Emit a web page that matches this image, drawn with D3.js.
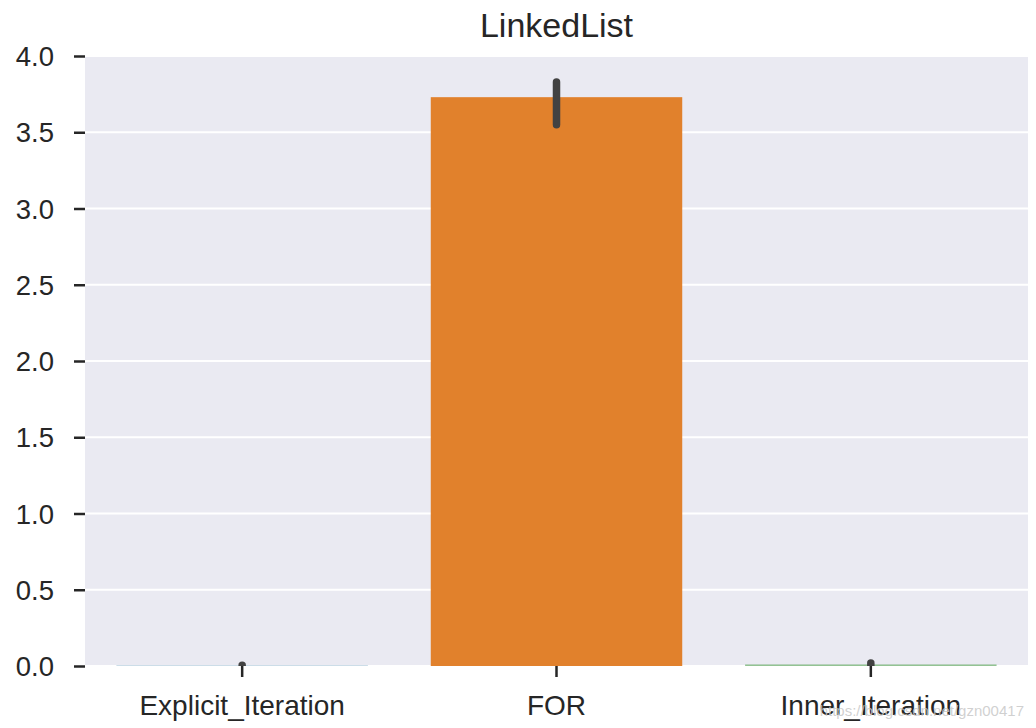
<!DOCTYPE html>
<html>
<head>
<meta charset="utf-8">
<script src="https://cdn.jsdelivr.net/npm/d3@7"></script>
<style>
	body { margin: 0; background: #fff; }
	svg { font-family: "Liberation Sans", Arial, sans-serif; }
	.y.axis .domain, .x.axis .domain { display: none; }
	.axis text { fill: #262626; }
	.axis line { stroke: #262626; }
	.grid line { stroke: #fff; }
</style>
</head>
<body>
<div id="chart"></div>
<script>

var categories = ["Explicit_Iteration", "FOR", "Inner_Iteration"];
var values = [0.003, 3.73, 0.01];
var ciLow = [0.0, 3.55, 0.0];
var ciHigh = [0.005, 3.83, 0.02];
var barColors = ["#3274a1", "#e1812c", "#3a923a"];
var yTicks = [0.0, 0.5, 1.0, 1.5, 2.0, 2.5, 3.0, 3.5, 4.0];

var margin = {top: 56, right: 8, bottom: 62, left: 85},
	width = 1036,
	Chartwidth = width - margin.left - margin.right,
	height = 728,
	Chartheight = height - margin.top - margin.bottom;

var data = categories.map(function(c, i) {
	return {cat: c, value: values[i], lo: ciLow[i], hi: ciHigh[i], color: barColors[i]};
});

var svg = d3.select("#chart").append("svg")
	.attr("width", width)
	.attr("height", height);

var x = d3.scaleBand().domain(categories).range([0, Chartwidth]).paddingInner(0.2).paddingOuter(0.1);
var y = d3.scaleLinear().domain([0, 4]).range([Chartheight, 0]);

var g = svg.append("g")
	.attr("transform", "translate(" + margin.left + "," + margin.top + ")");

svg.append("defs").append("clipPath")
	.attr("id", "plotclip")
  .append("rect")
	.attr("width", Chartwidth)
	.attr("height", Chartheight);

// background
g.append("rect")
	.attr("width", Chartwidth)
	.attr("height", Chartheight)
	.attr("fill", "#eaeaf2");

// grid
g.append("g")
	.attr("class", "grid")
	.selectAll("line")
	.data(yTicks)
  .enter().append("line")
	.attr("x1", 0)
	.attr("x2", Chartwidth)
	.attr("y1", function(d) { return y(d); })
	.attr("y2", function(d) { return y(d); })
	.attr("stroke-width", 2);

var plot = g.append("g").attr("clip-path", "url(#plotclip)");

// near-zero bars drawn a bit translucent, like the faint strokes in the picture
plot.selectAll(".bar")
	.data(data)
  .enter().append("rect")
	.attr("class", "bar")
	.attr("x", function(d) { return x(d.cat); })
	.attr("width", x.bandwidth())
	.attr("y", function(d) { return y(d.value); })
	.attr("height", function(d) { return Chartheight - y(d.value); })
	.attr("fill", function(d) { return d.color; })
	.attr("fill-opacity", function(d) { return d.value < 0.1 ? 0.55 : 1; });

plot.selectAll(".err")
	.data(data)
  .enter().append("line")
	.attr("class", "err")
	.attr("x1", function(d) { return x(d.cat) + x.bandwidth() / 2; })
	.attr("x2", function(d) { return x(d.cat) + x.bandwidth() / 2; })
	.attr("y1", function(d) { return y(d.lo); })
	.attr("y2", function(d) { return y(d.hi); })
	.attr("stroke", "#424242")
	.attr("stroke-width", 7.5)
	.attr("stroke-linecap", "round");

// axes
var yAxis = g.append("g")
	.attr("class", "y axis")
	.call(d3.axisLeft(y).tickValues(yTicks).tickFormat(d3.format(".1f")).tickSizeInner(11).tickSizeOuter(0).tickPadding(20));
yAxis.selectAll(".tick line").attr("stroke-width", 2.5);
yAxis.selectAll(".tick text").attr("font-size", 27.5).attr("dy", "0.35em");

var xAxis = g.append("g")
	.attr("class", "x axis")
	.attr("transform", "translate(0," + Chartheight + ")")
	.call(d3.axisBottom(x).tickSizeInner(11).tickSizeOuter(0).tickPadding(18));
xAxis.selectAll(".tick line").attr("stroke-width", 2.5);
xAxis.selectAll(".tick text").attr("font-size", 28);

// title
svg.append("text")
	.attr("x", margin.left + Chartwidth / 2)
	.attr("y", 37)
	.attr("text-anchor", "middle")
	.attr("font-size", 34)
	.attr("fill", "#262626")
	.text("LinkedList");

// watermark
svg.append("text")
	.attr("x", 1024)
	.attr("y", 716)
	.attr("text-anchor", "end")
	.attr("font-size", 15)
	.attr("fill", "#c8c8c8")
	.attr("fill-opacity", 0.85)
	.text("https://blog.csdn.net/gzn00417");

</script>
</body>
</html>
